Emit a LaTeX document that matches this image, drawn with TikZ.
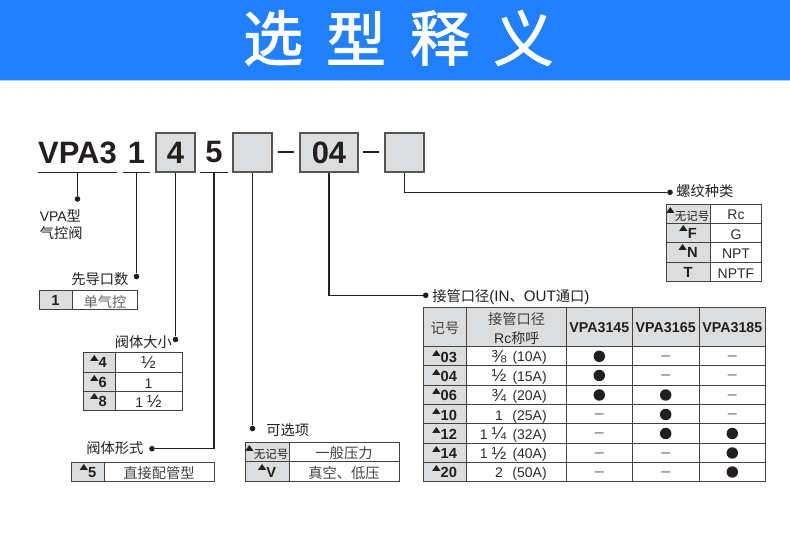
\documentclass[tikz,border=0pt]{standalone}
\usepackage{graphicx}
\usepackage{fontspec}
\setmainfont{Liberation Sans}
\newfontfamily\cjk{Noto Sans CJK SC}
\newfontfamily\symb{DejaVu Sans}
\usetikzlibrary{positioning,calc}

\definecolor{bandblue}{HTML}{2080FF}
\definecolor{bandline}{HTML}{A8CFFB}
\definecolor{keygray}{HTML}{DCDDDE}
\definecolor{inkgray}{HTML}{231F20}
\definecolor{rulegray}{HTML}{555555}

\newcommand{\tri}{\raisebox{5.3pt}{\scalebox{1.4}[1]{\symb\fontsize{6pt}{7pt}\selectfont ▲}}}
\newcommand{\fr}[1]{{\fontsize{13.2pt}{12pt}\selectfont\raisebox{-.6pt}{#1}}}

\tikzset{
  codetext/.style={inner sep=0pt, minimum height=29.25pt, text=inkgray, font=\bfseries\fontsize{23.2pt}{26pt}\selectfont},
  codebox/.style={codetext, draw=rulegray, line width=1.1pt, fill=keygray},
  uline/.style={draw=inkgray, line width=1.05pt},
  lead/.style={draw=inkgray, line width=1.05pt},
  dotmark/.style={circle, fill=inkgray, inner sep=0pt, minimum size=4.2pt},
  head/.style={inner sep=0pt, text=inkgray, font=\cjk\fontsize{10.7pt}{12pt}\selectfont},
  tab/.style={draw=inkgray!85, line width=.75pt},
  keyfill/.style={fill=keygray},
  key/.style={inner sep=0pt, anchor=base, text=inkgray, font=\bfseries\fontsize{11pt}{12pt}\selectfont},
  val/.style={inner sep=0pt, anchor=base, text=inkgray!95, font=\fontsize{10.5pt}{12pt}\selectfont},
  cval/.style={inner sep=0pt, text=inkgray!85, font=\cjk\fontsize{10.7pt}{12pt}\selectfont},
  bigdot/.style={circle, fill=inkgray, inner sep=0pt, minimum size=8.6pt},
  thindash/.style={inner sep=0pt, anchor=base, text=inkgray!70, font=\fontsize{12pt}{12pt}\selectfont},
  title/.style={inner sep=0pt, text=white, font=\cjk\addfontfeature{FakeBold=1.8}\fontsize{45pt}{50pt}\selectfont},
}

\newcommand{\cellmark}[3]{%
  \ifnum#3=1 \node[bigdot] (m#1#2) at (#1,#2) {};%
  \else \node[thindash] (m#1#2) at (#1,#2+4) {--};\fi}

\begin{document}
\begin{tikzpicture}[x=.75pt,y=-.75pt]
  \useasboundingbox (0,0) rectangle (790,547);

  % title band
  \fill[bandblue] (0,0) rectangle (790,80);
  \fill[bandline] (0,80) rectangle (790,81);
  \node[title] (t1) at (273,38) {选};
  \node[title] (t2) at (356,38) {型};
  \node[title] (t3) at (440,38) {释};
  \node[title] (t4) at (523.5,38) {义};

  % part number
  \node[codetext, minimum width=59.25pt] (vpa) at (77.5,152.5) {VPA3};
  \node[codetext, minimum width=20.25pt] (one) at (136.5,152.5) {1};
  \node[codebox, minimum width=29.25pt] (four) at (175.5,152.5) {4};
  \node[codetext, minimum width=21pt] (five) at (214,152.5) {5};
  \node[codebox, minimum width=29.25pt] (opt) at (252.5,152.5) {};
  \node[codebox, minimum width=43.5pt] (port) at (329,152.5) {04};
  \node[codebox, minimum width=29.25pt] (thr) at (404.5,152.5) {};
  \coordinate (s1a) at (278,152);
  \coordinate (s1b) at (294,152);
  \coordinate (s2a) at (363,152);
  \coordinate (s2b) at (379,152);
  \draw[inkgray, line width=1.5pt] (s1a) -- (s1b);
  \draw[inkgray, line width=1.5pt] (s2a) -- (s2b);
  \draw[uline] (vpa.south west) -- (vpa.south east);
  \draw[uline] (one.south west) -- (one.south east);
  \draw[uline] (five.south west) -- (five.south east);

  % dots and leaders
  \node[dotmark] (dvpa) at (77.5,199) {};
  \node[dotmark] (done) at (136.5,276.5) {};
  \node[dotmark] (dfour) at (175.5,339.5) {};
  \node[dotmark] (dfive) at (152,448.7) {};
  \node[dotmark] (dopt) at (252.5,428.5) {};
  \node[dotmark] (dport) at (425.7,295.3) {};
  \node[dotmark] (dthr) at (670,192.3) {};
  \draw[lead] (vpa.south) -- (dvpa);
  \draw[lead] (one.south) -- (done);
  \draw[lead] (four.south) -- (dfour);
  \draw[lead] (five.south) |- (dfive);
  \draw[lead] (opt.south) -- (dopt);
  \draw[lead] (port.south) |- (dport);
  \draw[lead] (thr.south) |- (dthr);

  % VPA
  \node[head, anchor=west] (l1) at (39.5,216) {{\rmfamily\fontsize{10.5pt}{12pt}\selectfont VPA}型};
  \node[head, anchor=west] (l2) at (39.5,233) {气控阀};

  % pilot ports
  \node[head, anchor=west] (h1) at (71,279) {先导口数};
  \fill[keyfill] (39,290) rectangle (72,309);
  \draw[tab] (39,290) rectangle (137,309);
  \draw[tab] (72,290) -- (72,309);
  \node[key] (k1) at (55.5,305) {1};
  \node[cval, text=inkgray!70] (v1) at (105,302) {单气控};

  % body size
  \node[head, anchor=west] (h2) at (114.5,342) {阀体大小};
  \fill[keyfill] (83,352.5) rectangle (115,410.5);
  \draw[tab] (83,352.5) rectangle (182,410.5);
  \draw[tab] (115,352.5) -- (115,410.5);
  \draw[tab] (83,372) -- (182,372);
  \draw[tab] (83,391.5) -- (182,391.5);
  \foreach \n/\y/\yv/\kode/\sz in {1/367.5/368/4/\fr{½}, 2/387.3/388.3/6/1, 3/406/407/8/1 \fr{½}}
    {
      \node[key] (ks\n) at (98.5,\y) {\tri\kode};
      \node[val] (vs\n) at (148.5,\yv) {\sz};
    }

  % body type
  \node[head, anchor=west] (h3) at (86,448) {阀体形式};
  \fill[keyfill] (71,462) rectangle (104.5,481);
  \draw[tab] (71,462) rectangle (214,481);
  \draw[tab] (104.5,462) -- (104.5,481);
  \node[key] (k5) at (88,477) {\tri 5};
  \node[cval] (v5) at (159,473) {直接配管型};

  % option
  \node[head, anchor=west] (h4) at (266,430) {可选项};
  \fill[keyfill] (245,442) rectangle (289,481);
  \draw[tab] (245,442) rectangle (399,481);
  \draw[tab] (289,442) -- (289,481);
  \draw[tab] (245,461.5) -- (399,461.5);
  \node[key, anchor=base east] (ko1) at (288.5,458) {\tri{\cjk\mdseries\fontsize{8.6pt}{10pt}\selectfont 无记号}};
  \node[key] (ko2) at (267,477) {\tri V};
  \node[cval] (vo1) at (344,453.5) {一般压力};
  \node[cval] (vo2) at (344,473) {真空、低压};

  % thread
  \node[head, anchor=west] (h5) at (676,191) {螺纹种类};
  \fill[keyfill] (666,204) rectangle (710,281);
  \draw[tab] (666,204) rectangle (761,281);
  \draw[tab] (710,204) -- (710,281);
  \foreach \y in {223,242.5,262}
    \draw[tab] (666,\y) -- (761,\y);
  \node[key, anchor=base east] (kt1) at (709.5,220) {\tri{\cjk\mdseries\fontsize{8.6pt}{10pt}\selectfont 无记号}};
  \node[key] (kt2) at (688,238) {\tri F};
  \node[key] (kt3) at (688,257) {\tri N};
  \node[key] (kt4) at (688,277) {T};
  \node[val] (vt1) at (736,219.3) {Rc};
  \node[val] (vt2) at (736,239) {G};
  \node[val] (vt3) at (736,258.3) {NPT};
  \node[val] (vt4) at (736,278) {NPTF};

  % port size
  \node[head, anchor=west] (h6) at (432,297) {接管口径{\rmfamily\fontsize{11.4pt}{12pt}\selectfont(IN}、{\rmfamily\fontsize{11.4pt}{12pt}\selectfont OUT}通口{\rmfamily\fontsize{11.4pt}{12pt}\selectfont)}};
  \fill[keyfill] (423,307.7) rectangle (765.3,346.3);
  \fill[keyfill] (423,346.3) rectangle (466.7,481.7);
  \draw[tab] (423,307.7) rectangle (765.3,481.7);
  \foreach \x in {466.7,566,632.7,699.3}
    \draw[tab] (\x,307.7) -- (\x,481.7);
  \foreach \y in {346.3,365.7,385.3,404.3,423.7,443,462.3}
    \draw[tab] (423,\y) -- (765.3,\y);
  \node[cval] (c1) at (445,328) {记号};
  \node[cval] (c2) at (516.7,319) {接管口径};
  \node[val, anchor=center] (c3) at (516.7,338) {Rc{\cjk 称呼}};
  \node[key, anchor=center, font=\bfseries\fontsize{10.7pt}{12pt}\selectfont] (c4) at (599.3,327.7) {VPA3145};
  \node[key, anchor=center, font=\bfseries\fontsize{10.7pt}{12pt}\selectfont] (c5) at (665.7,327.7) {VPA3165};
  \node[key, anchor=center, font=\bfseries\fontsize{10.7pt}{12pt}\selectfont] (c6) at (732.3,327.7) {VPA3185};
  \foreach \n/\y/\kode/\whole/\frc/\amp/\ma/\mb/\mc in {
      1/356.3/03//\fr{⅜}/10A/1/0/0,
      2/375.5/04//\fr{½}/15A/1/0/0,
      3/395/06//\fr{¾}/20A/1/1/0,
      4/414.5/10//1/25A/0/1/0,
      5/433.5/12/1 /\fr{¼}/32A/0/1/1,
      6/453/14/1 /\fr{½}/40A/0/0/1,
      7/472/20//2/50A/0/0/1}
    {
      \node[key] (kp\n) at (444.5,\y+5.8) {\tri\kode};
      \node[val, anchor=base east] (vp\n) at (547,\y+5.5) {\llap{\whole}\makebox[11pt][c]{\frc}\ \,(\amp)};
      \cellmark{599.3}{\y}{\ma}
      \cellmark{665.7}{\y}{\mb}
      \cellmark{732.3}{\y}{\mc}
    }
\end{tikzpicture}
\end{document}
